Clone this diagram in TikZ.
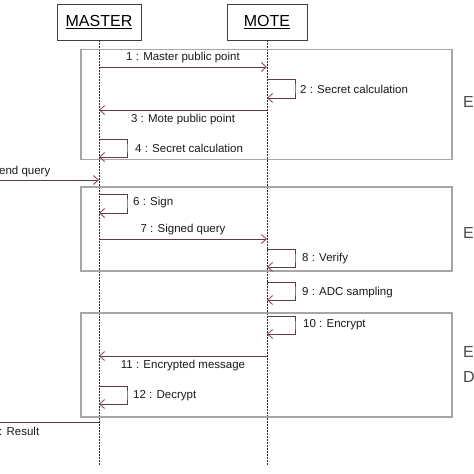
\documentclass[tikz,border=0pt]{standalone}
\usepackage{fontspec}
\setmainfont{Liberation Sans}
\usetikzlibrary{arrows.meta}
\definecolor{msgc}{HTML}{5E3C46}
\definecolor{tipc}{HTML}{8A4A5C}
\definecolor{framec}{HTML}{A6A6A6}
\begin{document}
\begin{tikzpicture}[x=1pt,y=-1pt,
  actor/.style={draw=black!75,line width=0.8pt,minimum width=84pt,minimum height=36pt,inner sep=0pt,font=\fontsize{16}{18}\selectfont},
  lifeline/.style={draw=black!85,line width=1pt,dash pattern=on 1.2pt off 1.8pt},
  frame/.style={draw=framec,line width=1.8pt},
  msg/.style={draw=msgc,line width=0.9pt,-{Straight Barb[length=5pt,width=9pt,color=tipc,line width=0.9pt]}},
  plain/.style={draw=msgc,line width=0.9pt},
  lbl/.style={font=\fontsize{11.5}{13}\selectfont,inner sep=0pt,text=black!90},
  side/.style={font=\fontsize{16}{18}\selectfont,inner sep=0pt,text=black!70,anchor=west}]
\useasboundingbox (0,0) rectangle (474,474);
% actors
\node[actor] (ma) at (99,22) {\underline{MASTER}};
\node[actor,minimum width=80pt] (mo) at (267,22) {\underline{MOTE}};
\coordinate (maend) at (99,466);
\coordinate (moend) at (267,466);
\draw[lifeline] (ma.south) -- (maend);
\draw[lifeline] (mo.south) -- (moend);
% frames
\node[frame,minimum width=371pt,minimum height=110pt,inner sep=0pt] (f1) at (266.5,104.5) {};
\node[frame,minimum width=371pt,minimum height=84pt,inner sep=0pt] (f2) at (266.5,229) {};
\node[frame,minimum width=371pt,minimum height=104pt,inner sep=0pt] (f3) at (266.5,365) {};
% side letters
\node[side] (s1) at (463,102) {E};
\node[side] (s2) at (463,233) {E};
\node[side] (s3) at (463,352) {E};
\node[side] (s4) at (463,377) {D};
% coordinates on lifelines
\foreach \n/\y in {a1/67,a3/110,a4/139,a4b/157,a5/180,a6/194,a6b/213,a7/239,a11/356,a12/386,a12b/404,a13/422}
  \coordinate (\n) at (99,\y);
\foreach \n/\y in {o1/67,o2/79,o2b/98,o3/110,o7/239,o8/249,o8b/267,o9/282,o9b/300,o10/316,o10b/334,o11/356}
  \coordinate (\n) at (267,\y);
\coordinate (in5) at (-2,180);
\coordinate (out13) at (-2,422);
% messages
\draw[msg] (a1) -- (o1) node[lbl,midway,above=4pt] (l1) {1 : Master public point};
\draw[msg] (o2) -| (295,88.5) |- (o2b);
\node[lbl,anchor=west] (l2) at (300,89) {2 : Secret calculation};
\draw[msg] (o3) -- (a3) node[lbl,midway,below=4pt] (l3) {3 : Mote public point};
\draw[msg] (a4) -| (127,148) |- (a4b);
\node[lbl,anchor=west] (l4) at (135,148) {4 : Secret calculation};
\draw[msg] (in5) -- (a5);
\node[lbl,anchor=west] (l5) at (-1,172) {end query};
\draw[msg] (a6) -| (127,203.5) |- (a6b);
\node[lbl,anchor=west] (l6) at (133,203) {6 : Sign};
\draw[msg] (a7) -- (o7) node[lbl,midway,above=4pt] (l7) {7 : Signed query};
\draw[msg] (o8) -| (295,258) |- (o8b);
\node[lbl,anchor=west] (l8) at (302,259) {8 : Verify};
\draw[msg] (o9) -| (295,291) |- (o9b);
\node[lbl,anchor=west] (l9) at (302,293) {9 : ADC sampling};
\draw[msg] (o10) -| (295,325) |- (o10b);
\node[lbl,anchor=west] (l10) at (303,325) {10 : Encrypt};
\draw[msg] (o11) -- (a11) node[lbl,midway,below=4pt] (l11) {11 : Encrypted message};
\draw[msg] (a12) -| (127,395) |- (a12b);
\node[lbl,anchor=west] (l12) at (133,396) {12 : Decrypt};
\draw[plain] (a13) -- (out13);
\node[lbl,anchor=west] (l13) at (-1,431) {: Result};
\end{tikzpicture}
\end{document}
